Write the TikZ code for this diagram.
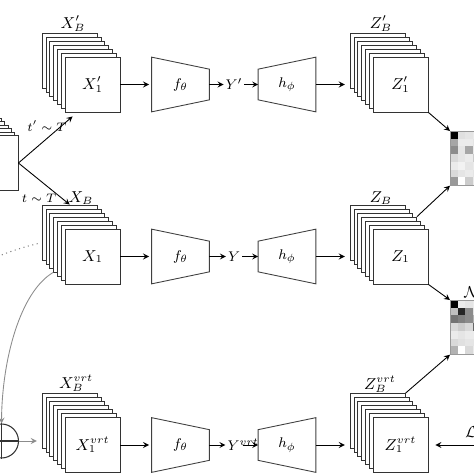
\documentclass[tikz,border=0pt]{standalone}
\usepackage{mathtools,amsmath,amssymb}
\usepackage{tikz}
\tikzset{
  framebox/.style={draw=black!80,fill=white,line width=0.5pt,minimum size=1.1cm,inner sep=0pt,font=\small},
  stacklabel/.style={inner sep=1pt,font=\small},
  encbox/.style={minimum width=1.14cm,minimum height=1.08cm,inner sep=0pt,font=\footnotesize},
  encline/.style={draw=black!75,line width=0.5pt},
  featlabel/.style={inner sep=1pt,font=\footnotesize},
  arr/.style={-stealth,line width=0.5pt},
  greyarr/.style={-stealth,line width=0.5pt,draw=black!45},
  matbox/.style={draw=black!40,line width=0.4pt,minimum size=1.08cm,inner sep=0pt,anchor=north west}
}

\begin{document}
\begin{tikzpicture}[x=0.02cm,y=-0.02cm]
  \useasboundingbox (0,0) rectangle (474,474);
  % input clip
  \foreach \i in {7,...,2}
    \node[framebox] (in\i) at ({-9.5-3.3*(\i-1)},{163-3.5*(\i-1)}) {};
  \node[framebox] (in1) at (-9.5,163) {};

  % top branch
  \foreach \i in {7,...,2}
    \node[framebox] (xp\i) at ({92.5-3.8*(\i-1)},{84.5-4*(\i-1)}) {};
  \node[framebox] (xp1) at (92.5,84.5) {$X'_1$};
  \node[stacklabel] (xpB) at (73,24) {$X'_B$};
  \node[encbox] (fp) at (180.5,84.5) {$f_\theta$};
  \draw[encline] (fp.north west) -- ([yshift=-0.24cm]fp.north east) -- ([yshift=0.24cm]fp.south east) -- (fp.south west) -- cycle;
  \node[featlabel] (yp) at (234,84.5) {$Y'$};
  \node[encbox] (hp) at (287,84.5) {$h_\phi$};
  \draw[encline] ([yshift=-0.24cm]hp.north west) -- (hp.north east) -- (hp.south east) -- ([yshift=0.24cm]hp.south west) -- cycle;
  \foreach \i in {7,...,2}
    \node[framebox] (zp\i) at ({400.5-3.8*(\i-1)},{84.5-4*(\i-1)}) {};
  \node[framebox] (zp1) at (400.5,84.5) {$Z'_1$};
  \node[stacklabel] (zpB) at (381,24) {$Z'_B$};
  \draw[arr,shorten >=1.5pt] (xp1) -- (fp);
  \draw[arr] (fp) -- (yp);
  \draw[arr] (yp) -- (hp);
  \draw[arr,shorten >=0.1cm] (hp) -- (hp.east -| zp7.west);

  % middle branch
  \foreach \i in {7,...,2}
    \node[framebox] (x\i) at ({92.5-3.8*(\i-1)},{256.5-4*(\i-1)}) {};
  \node[framebox] (x1) at (92.5,256.5) {$X_1$};
  \node[stacklabel] (xB) at (81,198) {$X_B$};
  \node[encbox] (f) at (180.5,256.5) {$f_\theta$};
  \draw[encline] (f.north west) -- ([yshift=-0.24cm]f.north east) -- ([yshift=0.24cm]f.south east) -- (f.south west) -- cycle;
  \node[featlabel] (y) at (234,256.5) {$Y$};
  \node[encbox] (h) at (287,256.5) {$h_\phi$};
  \draw[encline] ([yshift=-0.24cm]h.north west) -- (h.north east) -- (h.south east) -- ([yshift=0.24cm]h.south west) -- cycle;
  \foreach \i in {7,...,2}
    \node[framebox] (z\i) at ({400.5-3.8*(\i-1)},{256.5-4*(\i-1)}) {};
  \node[framebox] (z1) at (400.5,256.5) {$Z_1$};
  \node[stacklabel] (zB) at (381,198) {$Z_B$};
  \draw[arr,shorten >=1.5pt] (x1) -- (f);
  \draw[arr] (f) -- (y);
  \draw[arr] (y) -- (h);
  \draw[arr,shorten >=0.1cm] (h) -- (h.east -| z7.west);

  % virtual branch
  \foreach \i in {7,...,2}
    \node[framebox] (xv\i) at ({92.5-3.8*(\i-1)},{445-4*(\i-1)}) {};
  \node[framebox] (xv1) at (92.5,445) {$X^{vrt}_1$};
  \node[stacklabel] (xvB) at (76,383) {$X^{vrt}_B$};
  \node[encbox] (fv) at (180.5,445) {$f_\theta$};
  \draw[encline] (fv.north west) -- ([yshift=-0.24cm]fv.north east) -- ([yshift=0.24cm]fv.south east) -- (fv.south west) -- cycle;
  \node[featlabel] (yv) at (234,445) {$Y^{\mathrlap{vrt}}$};
  \node[encbox] (hv) at (287,445) {$h_\phi$};
  \draw[encline] ([yshift=-0.24cm]hv.north west) -- (hv.north east) -- (hv.south east) -- ([yshift=0.24cm]hv.south west) -- cycle;
  \foreach \i in {7,...,2}
    \node[framebox] (zv\i) at ({400.5-3.8*(\i-1)},{445-4*(\i-1)}) {};
  \node[framebox] (zv1) at (400.5,445) {$Z^{vrt}_1$};
  \node[stacklabel] (zvB) at (380,384) {$Z^{vrt}_B$};
  \draw[arr,shorten >=1.5pt] (xv1) -- (fv);
  \draw[arr] (fv) -- (yv);
  \draw[arr] (yv) -- (hv);
  \draw[arr,shorten >=0.1cm] (hv) -- (hv.east -| zv7.west);

  % augmentations
  \draw[arr] (in1.east) -- ([shift={(8,4)}]xp1.south west);
  \draw[arr] (in1.east) -- (x7.north);
  \node[font=\scriptsize] (tp) at (47,126) {$t' \sim T$};
  \node[font=\scriptsize] (t) at (39,198) {$t \sim T$};

  % grey paths
  \coordinate (dots) at (-15,262);
  \coordinate (dote) at (40,243);
  \draw[dotted,black!50,line width=0.6pt] (dots) to[bend left=5] (dote);
  \node[circle,draw=black!80,line width=0.6pt,minimum size=0.68cm,inner sep=0pt] (oplus) at (1.5,441) {};
  \draw[black!80,line width=0.6pt] (oplus.north) -- (oplus.south) (oplus.west) -- (oplus.east);
  \draw[greyarr] (x4.south west) .. controls (20,292) and (2,360) .. (oplus.north);
  \draw[greyarr,shorten >=0.1cm] (oplus) -- (oplus.east -| xv7.west);

  % similarity matrices
  \foreach \row [count=\r] in {{100,12,10,8,10,8,12},{35,8,8,10,6,8,10},{45,10,35,8,12,10,8},{15,10,8,20,8,10,6},{8,5,10,8,25,8,10},{15,10,8,10,8,30,8},{40,0,20,8,10,8,50}}
    \foreach \v [count=\c] in \row
      \fill[black!\v] ({450+7.71*(\c-1)},{131+7.71*(\r-1)}) rectangle ++(7.71,7.71);
  \node[matbox] (m1) at (450,131) {};
  \foreach \row [count=\r] in {{100,8,10,8,10,8,12},{25,85,45,10,6,8,10},{55,50,45,30,12,10,8},{15,20,15,60,8,10,6},{8,10,8,8,50,8,10},{15,12,10,10,8,60,8},{30,0,15,8,10,8,70}}
    \foreach \v [count=\c] in \row
      \fill[black!\v] ({450+7.71*(\c-1)},{300+7.71*(\r-1)}) rectangle ++(7.71,7.71);
  \node[matbox] (m2) at (450,300) {};
  \draw[arr] (zp1.south east) -- (m1.north west);
  \draw[arr] (z4.north east) -- (m1.south west);
  \draw[arr] (z1.south east) -- (m2.north west);
  \draw[arr] (zv7.north east) -- (m2.south west);

  % losses
  \node[anchor=base west,inner sep=0pt,font=\small] (simlab) at (464,297) {$\mathcal{N}$};
  \node[anchor=base west,inner sep=0pt,font=\small] (loss) at (465,437) {$\mathcal{L}$};
  \coordinate (lossin) at (480,445);
  \draw[arr,shorten >=0.14cm] (lossin) -- (zv1.east);
\end{tikzpicture}
\end{document}
